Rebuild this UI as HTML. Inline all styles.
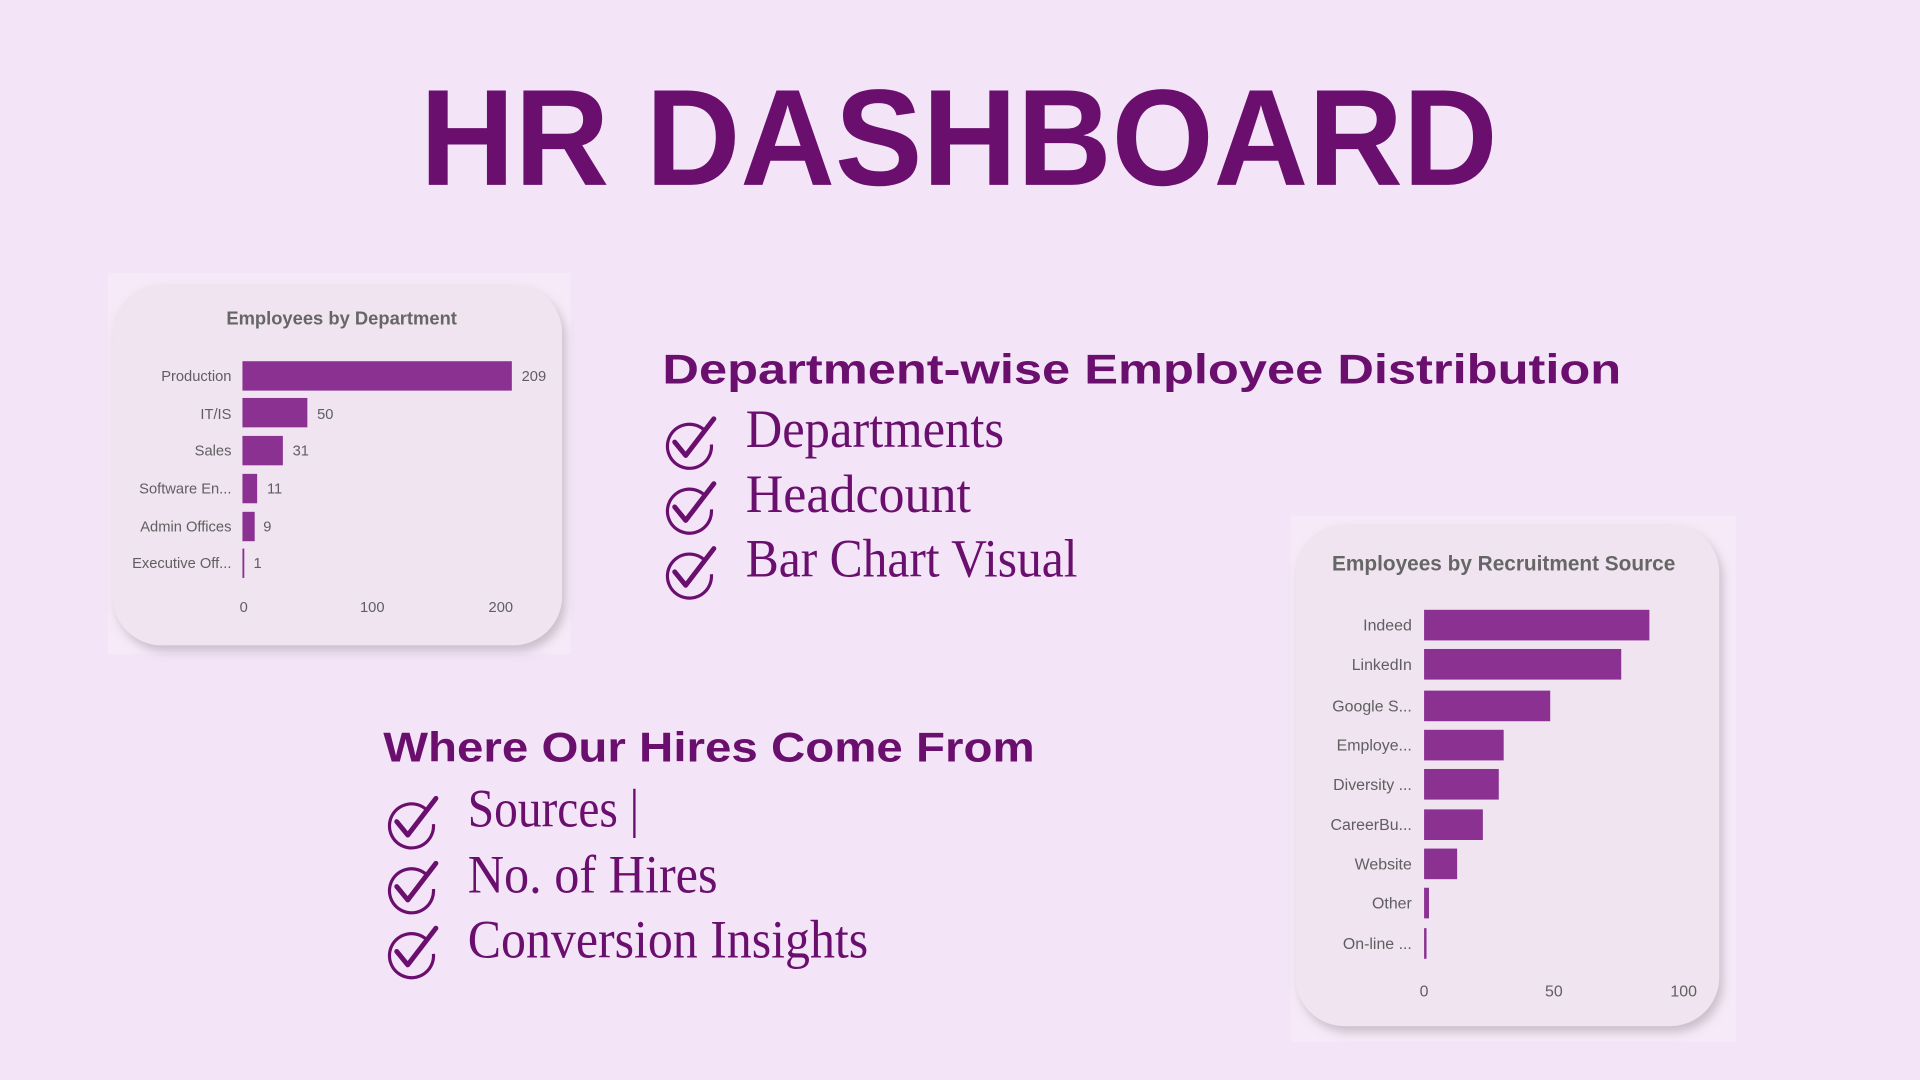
<!DOCTYPE html>
<html><head><meta charset="utf-8"><style>
html,body{margin:0;padding:0;background:#f3e4f8;}
svg{display:block}
</style></head><body>
<svg width="1920" height="1080" viewBox="0 0 1568 882" xmlns="http://www.w3.org/2000/svg">
<defs>
<filter id="sh" x="-10%" y="-10%" width="125%" height="125%">
<feDropShadow dx="3" dy="5" stdDeviation="4" flood-color="#7a6a7a" flood-opacity="0.35"/>
</filter>
<g id="chk">
<path d="M34 12 A18 18 0 1 0 40 24" fill="none" stroke="#6a0f6e" stroke-width="2.6"/>
<path d="M10 22 L19 33 L42 3" fill="none" stroke="#6a0f6e" stroke-width="4" stroke-linejoin="round" stroke-linecap="round"/>
</g>
</defs>
<rect width="1568" height="882" fill="#f3e4f8"/>
<text x="783" y="151" text-anchor="middle" font-family="Liberation Sans, sans-serif" font-weight="bold" font-size="112" fill="#6a0f6e" textLength="880" lengthAdjust="spacingAndGlyphs">HR DASHBOARD</text>

<!-- Card 1 -->
<rect x="88" y="223" width="378" height="311" fill="#f6eaf8"/>
<rect x="92" y="232" width="367" height="295" rx="40" fill="#efe4f0" filter="url(#sh)"/>
<g font-family="Liberation Sans, DejaVu Sans, sans-serif" fill="#605e60">
<text x="279" y="265" text-anchor="middle" font-size="15" font-weight="bold" fill="#666">Employees by Department</text>
<g font-size="12" text-anchor="end">
<text x="189" y="311">Production</text><text x="189" y="342">IT/IS</text><text x="189" y="372">Sales</text>
<text x="189" y="403">Software En...</text><text x="189" y="434">Admin Offices</text><text x="189" y="464">Executive Off...</text>
</g>
<g font-size="12">
<text x="426" y="311">209</text><text x="259" y="342">50</text><text x="239" y="372">31</text>
<text x="218" y="403">11</text><text x="215" y="434">9</text><text x="207" y="464">1</text>
</g>
<g font-size="12" text-anchor="middle"><text x="199" y="500">0</text><text x="304" y="500">100</text><text x="409" y="500">200</text></g>
</g>
<g fill="#8a3192">
<rect x="198" y="295" width="220" height="24"/><rect x="198" y="325" width="53" height="24"/>
<rect x="198" y="356" width="33" height="24"/><rect x="198" y="387" width="12" height="24"/>
<rect x="198" y="418" width="10" height="24"/><rect x="198" y="448" width="1.5" height="24"/>
</g>

<!-- Card 2 -->
<rect x="1054" y="421" width="364" height="430" fill="#f6eaf8"/>
<rect x="1058" y="428" width="346" height="410" rx="40" fill="#efe4f0" filter="url(#sh)"/>
<g font-family="Liberation Sans, DejaVu Sans, sans-serif" fill="#605e60">
<text x="1228" y="466" text-anchor="middle" font-size="17" font-weight="bold" fill="#666">Employees by Recruitment Source</text>
<g font-size="13" text-anchor="end">
<text x="1153" y="515">Indeed</text><text x="1153" y="547">LinkedIn</text><text x="1153" y="581">Google S...</text>
<text x="1153" y="613">Employe...</text><text x="1153" y="645">Diversity ...</text><text x="1153" y="678">CareerBu...</text>
<text x="1153" y="710">Website</text><text x="1153" y="742">Other</text><text x="1153" y="775">On-line ...</text>
</g>
<g font-size="13" text-anchor="middle"><text x="1163" y="814">0</text><text x="1269" y="814">50</text><text x="1375" y="814">100</text></g>
</g>
<g fill="#8a3192">
<rect x="1163" y="498" width="184" height="25"/><rect x="1163" y="530" width="161" height="25"/>
<rect x="1163" y="564" width="103" height="25"/><rect x="1163" y="596" width="65" height="25"/>
<rect x="1163" y="628" width="61" height="25"/><rect x="1163" y="661" width="48" height="25"/>
<rect x="1163" y="693" width="27" height="25"/><rect x="1163" y="725" width="4" height="25"/>
<rect x="1163" y="758" width="2" height="25"/>
</g>

<!-- Section 1 -->
<text x="541" y="313" font-family="Liberation Sans, sans-serif" font-weight="bold" font-size="34" fill="#6a0f6e" textLength="783" lengthAdjust="spacingAndGlyphs">Department-wise Employee Distribution</text>
<use href="#chk" x="541" y="339"/><use href="#chk" x="541" y="392"/><use href="#chk" x="541" y="445"/>
<g font-family="Liberation Serif, serif" font-size="44" fill="#6a0f6e">
<text x="609" y="365" textLength="211" lengthAdjust="spacingAndGlyphs">Departments</text>
<text x="609" y="418" textLength="184" lengthAdjust="spacingAndGlyphs">Headcount</text>
<text x="609" y="471" textLength="271" lengthAdjust="spacingAndGlyphs">Bar Chart Visual</text>
</g>

<!-- Section 2 -->
<text x="313" y="622" font-family="Liberation Sans, sans-serif" font-weight="bold" font-size="34" fill="#6a0f6e" textLength="532" lengthAdjust="spacingAndGlyphs">Where Our Hires Come From</text>
<use href="#chk" x="314" y="649"/><use href="#chk" x="314" y="702"/><use href="#chk" x="314" y="755"/>
<g font-family="Liberation Serif, serif" font-size="44" fill="#6a0f6e">
<text x="382" y="675" textLength="140" lengthAdjust="spacingAndGlyphs">Sources |</text>
<text x="382" y="729" textLength="204" lengthAdjust="spacingAndGlyphs">No. of Hires</text>
<text x="382" y="782" textLength="327" lengthAdjust="spacingAndGlyphs">Conversion Insights</text>
</g>
</svg>
</body></html>
